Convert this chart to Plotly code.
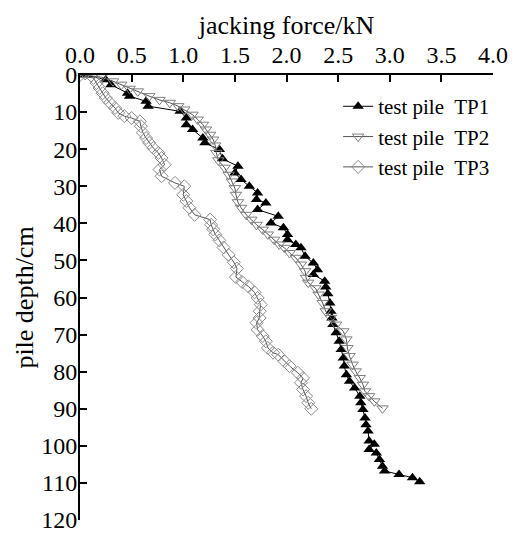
import plotly.graph_objs as go

# jacking force [kN] over pile depth [cm] for the three test piles
tp1_force = [0.05, 0.25, 0.30, 0.46, 0.48, 0.64, 0.66, 0.97, 1.03, 1.03, 1.09, 1.19, 1.21, 1.35, 1.38,
             1.53, 1.50, 1.56, 1.64, 1.72, 1.71, 1.80, 1.72, 1.92, 1.85, 1.97, 2.01, 2.01, 2.09, 2.14,
             2.18, 2.26, 2.30, 2.26, 2.37, 2.38, 2.40, 2.42, 2.43, 2.44, 2.45, 2.48, 2.51, 2.53, 2.55,
             2.56, 2.58, 2.61, 2.66, 2.71, 2.72, 2.74, 2.76, 2.77, 2.79, 2.80, 2.85, 2.80, 2.87, 2.90,
             2.93, 2.95, 3.09, 3.22, 3.29]
tp1_depth = [0, 1.3, 2.6, 4.9, 5.7, 7.1, 8.4, 9.8, 11.6, 13.4, 14.7, 17.0, 18.3, 20.1, 22.6,
             24.6, 26.4, 28.2, 30.0, 31.8, 33.6, 34.5, 36.3, 38.1, 39.9, 41.2, 43.0, 44.4, 45.7, 46.6,
             48.9, 50.7, 52.5, 53.8, 55.6, 57.2, 59.0, 61.5, 63.7, 65.5, 67.3, 69.5, 71.8, 74.0, 76.3,
             78.5, 80.8, 82.6, 84.4, 86.6, 88.4, 90.2, 92.5, 94.3, 96.0, 98.7, 99.6, 101.0, 101.9, 103.7,
             105.5, 106.8, 107.7, 108.6, 109.7]

tp2_force = [0.05, 0.21, 0.32, 0.40, 0.48, 0.56, 0.67, 0.77, 0.87, 0.95, 1.01, 1.09, 1.14, 1.19, 1.22,
             1.26, 1.29, 1.31, 1.32, 1.34, 1.40, 1.44, 1.47, 1.50, 1.51, 1.53, 1.56, 1.61, 1.66, 1.71,
             1.77, 1.82, 1.88, 1.93, 1.98, 2.03, 2.09, 2.14, 2.18, 2.19, 2.21, 2.28, 2.31, 2.35, 2.38,
             2.43, 2.48, 2.55, 2.58, 2.59, 2.61, 2.64, 2.67, 2.71, 2.74, 2.76, 2.80, 2.85, 2.93]
tp2_depth = [0, 0.6, 1.7, 2.6, 3.7, 4.4, 5.7, 6.7, 7.5, 8.4, 9.3, 10.7, 12.0, 13.4, 14.7,
             16.1, 17.4, 19.0, 21.0, 23.0, 25.0, 26.9, 28.7, 30.5, 32.3, 34.3, 35.8, 37.7, 39.0, 40.4,
             41.7, 43.0, 44.4, 45.7, 46.6, 48.0, 49.3, 51.1, 52.9, 54.7, 56.0, 57.5, 59.2, 61.5, 63.7,
             65.5, 67.3, 69.1, 71.3, 73.6, 75.8, 78.1, 79.9, 81.7, 83.5, 85.3, 86.6, 88.0, 89.9]

tp3_force = [0.0, 0.13, 0.16, 0.19, 0.22, 0.25, 0.29, 0.34, 0.37, 0.43, 0.50, 0.58, 0.59, 0.61, 0.64,
             0.67, 0.71, 0.76, 0.79, 0.82, 0.77, 0.79, 0.92, 1.01, 1.00, 1.03, 1.06, 1.11, 1.26, 1.27,
             1.29, 1.31, 1.35, 1.39, 1.44, 1.49, 1.52, 1.51, 1.57, 1.63, 1.69, 1.72, 1.75, 1.74, 1.74,
             1.71, 1.72, 1.77, 1.80, 1.82, 1.87, 1.92, 1.98, 2.03, 2.11, 2.16, 2.14, 2.16, 2.19, 2.21,
             2.24]
tp3_depth = [0, 0.8, 2.2, 3.5, 4.9, 6.2, 7.5, 8.9, 10.2, 11.1, 11.6, 12.5, 13.8, 15.6, 17.0,
             18.3, 19.7, 21.0, 22.4, 24.2, 25.5, 27.3, 29.1, 30.0, 32.3, 34.0, 35.8, 37.7, 39.0, 40.4,
             41.6, 43.0, 44.6, 46.5, 48.5, 50.5, 52.2, 54.5, 55.8, 57.0, 58.6, 60.1, 61.9, 63.7, 65.5,
             66.8, 68.7, 70.4, 71.8, 73.6, 74.9, 75.4, 77.2, 78.5, 80.3, 81.7, 83.0, 84.8, 86.6, 88.4,
             90.0]

x_ticks = [0.0, 0.5, 1.0, 1.5, 2.0, 2.5, 3.0, 3.5, 4.0]
y_ticks = list(range(0, 121, 10))

FONT = "Liberation Serif, Times New Roman, serif"

fig = go.Figure()

# Testpfahl 1: gefuellte schwarze Dreiecke
fig.add_trace(go.Scatter(x=tp1_force, y=tp1_depth, mode='lines+markers', name='test pile  TP1',
                         line=dict(color='black', width=1),
                         marker=dict(symbol='triangle-up', size=10, color='black')))

# Testpfahl 2: offene Dreiecke nach unten
fig.add_trace(go.Scatter(x=tp2_force, y=tp2_depth, mode='lines+markers', name='test pile  TP2',
                         line=dict(color='#555555', width=1),
                         marker=dict(symbol='triangle-down-open', size=10, color='#808080',
                                     line=dict(width=1))))

# Testpfahl 3: offene Rauten
fig.add_trace(go.Scatter(x=tp3_force, y=tp3_depth, mode='lines+markers', name='test pile  TP3',
                         line=dict(color='#555555', width=1),
                         marker=dict(symbol='diamond-open', size=10, color='#8a8a8a',
                                     line=dict(width=1))))

# Layout anpassen
fig.update_layout(width=531, height=550,
                  margin=dict(l=72, r=46, t=67, b=38),
                  plot_bgcolor='white', paper_bgcolor='white',
                  font=dict(family=FONT, size=24, color='black'),
                  legend=dict(x=0.625, y=0.975, xanchor='left', yanchor='top',
                              font=dict(size=21), bgcolor='rgba(0,0,0,0)'))

fig.update_xaxes(title_text='jacking force/kN', title_font=dict(size=26), title_standoff=0,
                 side='top', range=[0, 4.0], tickvals=x_ticks,
                 ticktext=[f'{v:.1f}' for v in x_ticks],
                 ticks='inside', ticklen=7, tickwidth=2, tickcolor='black',
                 showline=True, linewidth=2, linecolor='black',
                 showgrid=False, zeroline=False)

fig.update_yaxes(title_text='pile depth/cm', title_font=dict(size=26), title_standoff=0,
                 range=[120, 0], tickvals=y_ticks,
                 ticks='inside', ticklen=7, tickwidth=2, tickcolor='black',
                 showline=True, linewidth=2, linecolor='black',
                 showgrid=False, zeroline=False, ticklabelstandoff=-4)

fig.write_html("out.html")
